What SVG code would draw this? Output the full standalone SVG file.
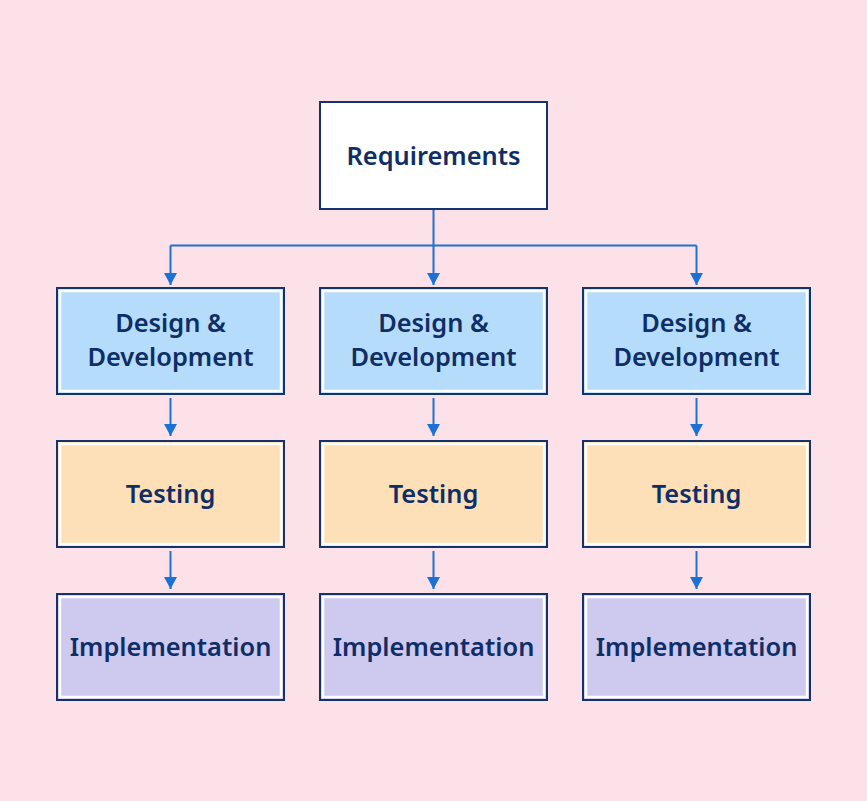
<svg xmlns="http://www.w3.org/2000/svg" width="867" height="801" viewBox="0 0 867 801">
<style>
.bg{fill:#fde1e8}
.box{stroke:#14336a;stroke-width:2}
.inner{fill:none;stroke:#ffffff;stroke-width:2.5}
.req{fill:#ffffff}
.des{fill:#b6dcfb}
.tst{fill:#fde0b7}
.imp{fill:#cdc9ef}
text{font-family:"Noto Sans","Open Sans",sans-serif;font-weight:600;font-size:25.4px;fill:#0f2d66;text-anchor:middle}
.ln{stroke:#1a72d6;stroke-width:2;fill:none}
</style>
<defs>
<marker id="ah" markerWidth="14" markerHeight="14" refX="12" refY="7" orient="auto" markerUnits="userSpaceOnUse">
<path d="M0,0.5 L12,7 L0,13.5 Z" fill="#1a72d6"/>
</marker>
</defs>
<rect class="bg" x="0" y="0" width="867" height="801"/>
<g id="connectors">
<path class="ln" d="M433.5,209 V245.5"/>
<path class="ln" d="M170.5,245.5 H696.5"/>
<path class="ln" d="M170.5,245.5 V285" marker-end="url(#ah)"/>
<path class="ln" d="M433.5,245.5 V285" marker-end="url(#ah)"/>
<path class="ln" d="M696.5,245.5 V285" marker-end="url(#ah)"/>
<path class="ln" d="M170.5,398 V436" marker-end="url(#ah)"/>
<path class="ln" d="M433.5,398 V436" marker-end="url(#ah)"/>
<path class="ln" d="M696.5,398 V436" marker-end="url(#ah)"/>
<path class="ln" d="M170.5,551 V589" marker-end="url(#ah)"/>
<path class="ln" d="M433.5,551 V589" marker-end="url(#ah)"/>
<path class="ln" d="M696.5,551 V589" marker-end="url(#ah)"/>
</g>
<g id="requirements">
<rect class="box req" x="320" y="102" width="227" height="107"/>
<text x="433.5" y="164.5">Requirements</text>
</g>
<g id="design1">
<rect class="box des" x="57" y="288" width="227" height="106"/>
<rect class="inner" x="60" y="291" width="221" height="100"/>
<text x="170.5" y="331.5">Design &amp;</text>
<text x="170.5" y="365.5">Development</text>
</g>
<g id="design2">
<rect class="box des" x="320" y="288" width="227" height="106"/>
<rect class="inner" x="323" y="291" width="221" height="100"/>
<text x="433.5" y="331.5">Design &amp;</text>
<text x="433.5" y="365.5">Development</text>
</g>
<g id="design3">
<rect class="box des" x="583" y="288" width="227" height="106"/>
<rect class="inner" x="586" y="291" width="221" height="100"/>
<text x="696.5" y="331.5">Design &amp;</text>
<text x="696.5" y="365.5">Development</text>
</g>
<g id="testing1">
<rect class="box tst" x="57" y="441" width="227" height="106"/>
<rect class="inner" x="60" y="444" width="221" height="100"/>
<text x="170.5" y="502.5">Testing</text>
</g>
<g id="testing2">
<rect class="box tst" x="320" y="441" width="227" height="106"/>
<rect class="inner" x="323" y="444" width="221" height="100"/>
<text x="433.5" y="502.5">Testing</text>
</g>
<g id="testing3">
<rect class="box tst" x="583" y="441" width="227" height="106"/>
<rect class="inner" x="586" y="444" width="221" height="100"/>
<text x="696.5" y="502.5">Testing</text>
</g>
<g id="impl1">
<rect class="box imp" x="57" y="594" width="227" height="106"/>
<rect class="inner" x="60" y="597" width="221" height="100"/>
<text x="170.5" y="655.5">Implementation</text>
</g>
<g id="impl2">
<rect class="box imp" x="320" y="594" width="227" height="106"/>
<rect class="inner" x="323" y="597" width="221" height="100"/>
<text x="433.5" y="655.5">Implementation</text>
</g>
<g id="impl3">
<rect class="box imp" x="583" y="594" width="227" height="106"/>
<rect class="inner" x="586" y="597" width="221" height="100"/>
<text x="696.5" y="655.5">Implementation</text>
</g>
</svg>
